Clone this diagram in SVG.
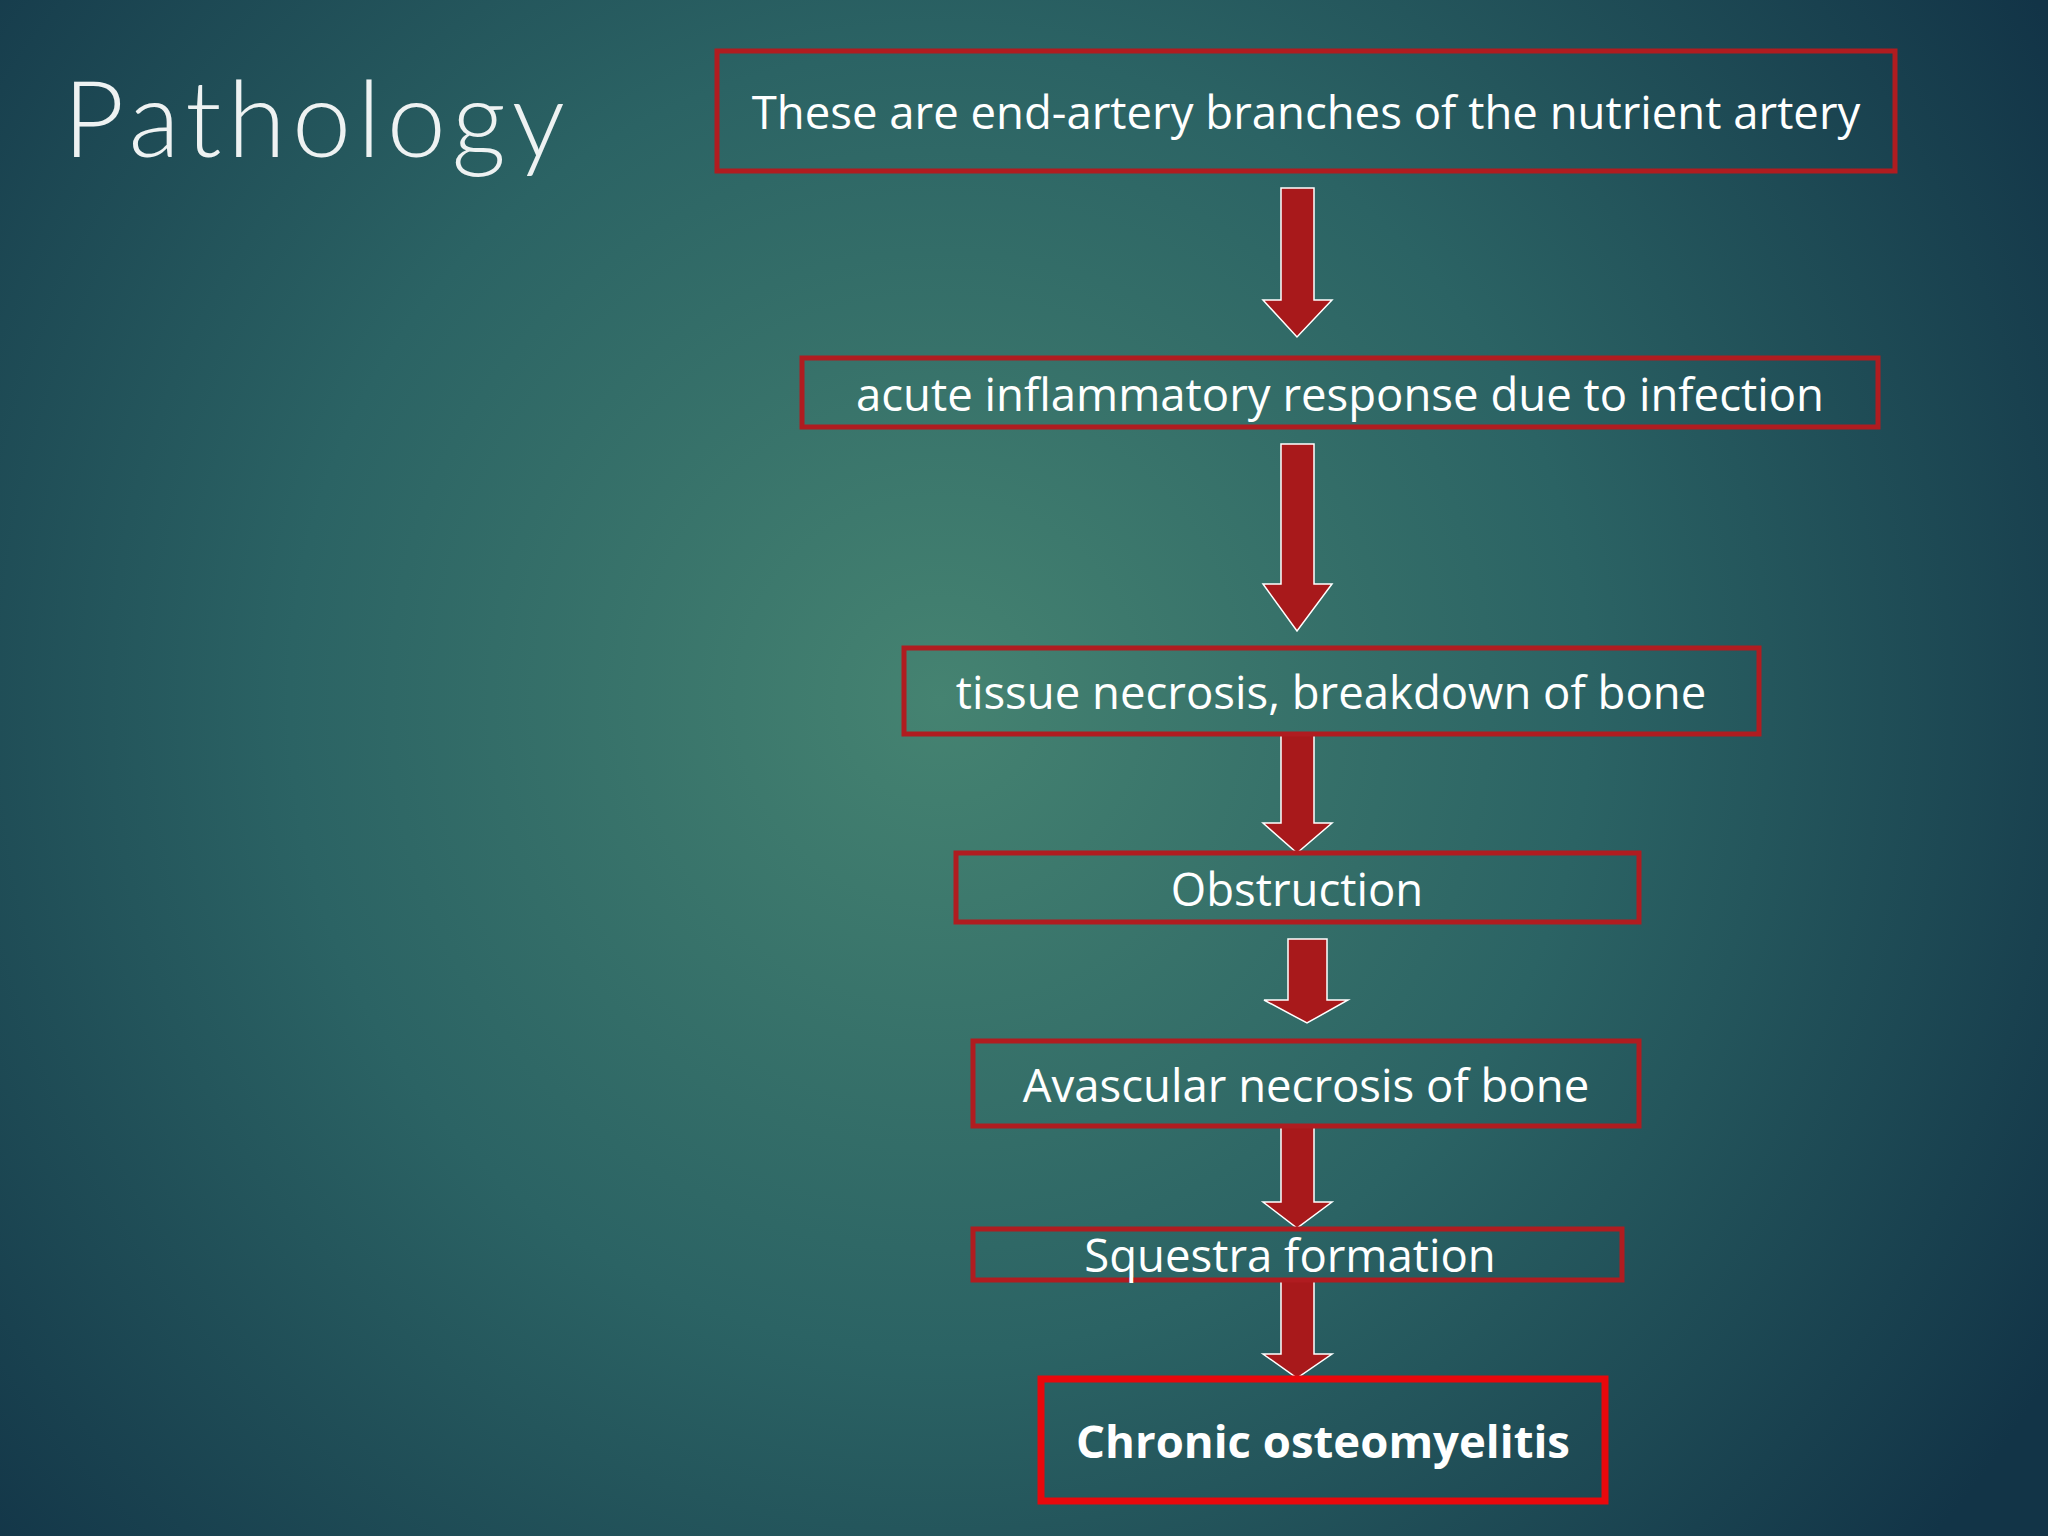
<svg xmlns="http://www.w3.org/2000/svg" width="2048" height="1536" viewBox="0 0 2048 1536">
<defs>
<radialGradient id="bg" cx="940" cy="700" r="1300" gradientUnits="userSpaceOnUse">
<stop offset="0" stop-color="#458371"/>
<stop offset="0.5" stop-color="#2b6364"/>
<stop offset="1" stop-color="#123447"/>
</radialGradient>
<style>
.box{fill:none;stroke:#b01c20;stroke-width:5}
.arr{fill:#a8191b;stroke:#ffffff;stroke-width:1.5}
.t{font-family:"Open Sans","Noto Sans",sans-serif;font-size:45.5px;fill:#ffffff;text-anchor:middle}
</style>
</defs>
<rect width="2048" height="1536" fill="url(#bg)"/>
<text x="63" y="157" font-family="Lato, 'Liberation Sans', sans-serif" font-weight="300" font-size="106" fill="#eef2f2" textLength="502" lengthAdjust="spacing">Pathology</text>
<g id="connectors">
<polygon class="arr" points="1281,188 1314,188 1314,300 1332,300 1297,337 1263,300 1281,300"/>
<polygon class="arr" points="1281,444 1314,444 1314,584 1332,584 1297,631 1263,584 1281,584"/>
<polygon class="arr" points="1281,734 1314,734 1314,823 1332,823 1297,853 1263,823 1281,823"/>
<polygon class="arr" points="1288,939 1327,939 1327,1000 1348,1000 1307,1023 1264,1000 1288,1000"/>
<polygon class="arr" points="1281,1126 1314,1126 1314,1202 1332,1202 1297,1228 1263,1202 1281,1202"/>
<polygon class="arr" points="1281,1280 1314,1280 1314,1354 1332,1354 1297,1378 1263,1354 1281,1354"/>
</g>
<g id="n1"><rect class="box" x="717" y="51" width="1178" height="120"/><text class="t" x="1306" y="129">These are end-artery branches of the nutrient artery</text></g>
<g id="n2"><rect class="box" x="802" y="358" width="1076" height="69"/><text class="t" x="1340" y="411">acute inflammatory response due to infection</text></g>
<g id="n3"><rect class="box" x="904" y="648" width="855" height="86"/><text class="t" x="1331" y="709">tissue necrosis, breakdown of bone</text></g>
<g id="n4"><rect class="box" x="956" y="853" width="683" height="69"/><text class="t" x="1297" y="906">Obstruction</text></g>
<g id="n5"><rect class="box" x="973" y="1041" width="666" height="85"/><text class="t" x="1306" y="1102">Avascular necrosis of bone</text></g>
<g id="n6"><rect class="box" x="973" y="1229" width="649" height="51"/><text class="t" x="1290" y="1272">Squestra formation</text></g>
<g id="n7"><rect x="1041" y="1379" width="564" height="122" fill="none" stroke="#e8080c" stroke-width="7"/><text class="t" x="1323" y="1458" font-weight="bold">Chronic osteomyelitis</text></g>
</svg>
